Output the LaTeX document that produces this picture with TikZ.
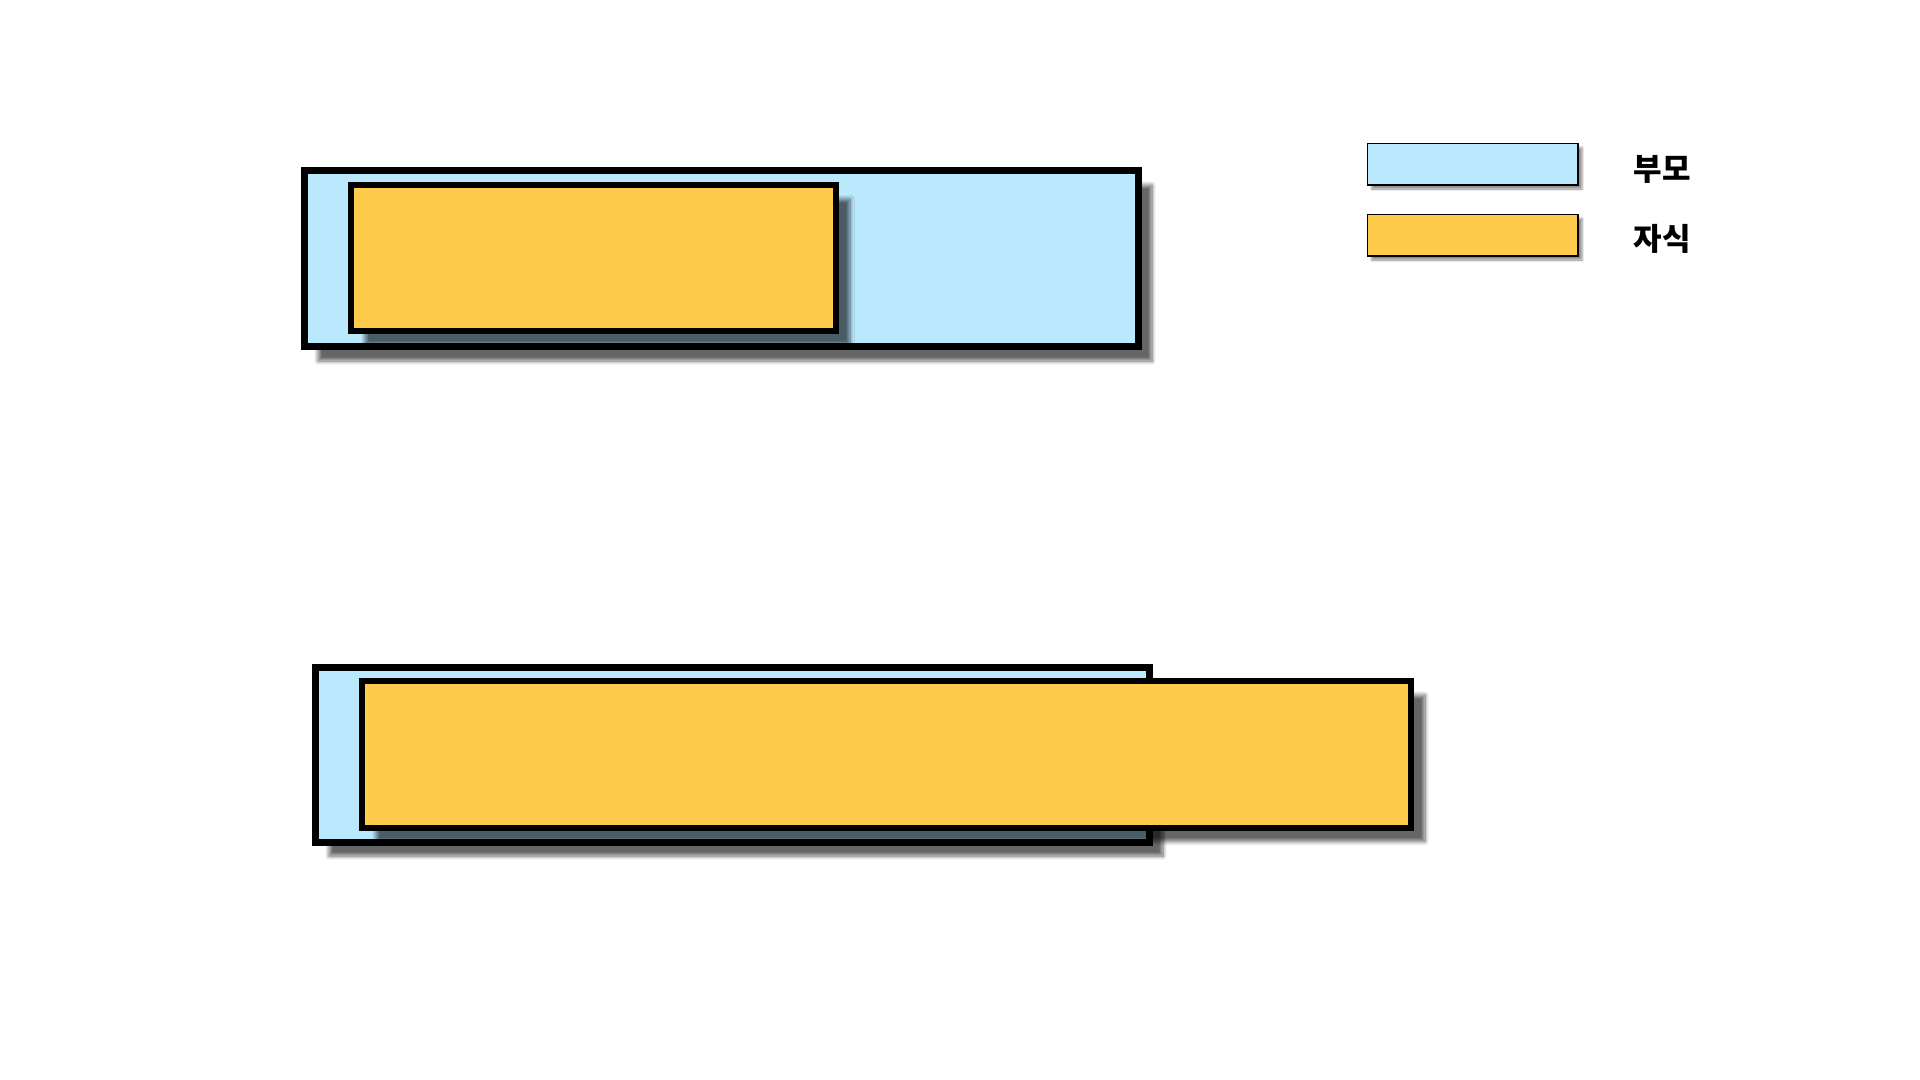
\documentclass[tikz,border=0pt]{standalone}
\usepackage{fontspec}
\newfontfamily\kr{Noto Sans CJK KR}
\usetikzlibrary{shadows.blur}
\definecolor{pblue}{HTML}{BAE8FD}
\definecolor{corange}{HTML}{FECC4A}
\begin{document}
\begin{tikzpicture}[x=0.5pt,y=-0.5pt,
  box/.style={draw=black, inner sep=0pt, anchor=north west,
    blur shadow={shadow xshift=7pt, shadow yshift=-7pt, shadow blur radius=2pt, shadow opacity=60, shadow blur steps=8}},
  parentbox/.style={box, fill=pblue, line width=3.5pt},
  childbox/.style={box, fill=corange, line width=3pt},
  legbox/.style={draw=black, line width=0.75pt, inner sep=0pt, anchor=north west,
    minimum width=105.25pt, minimum height=20.75pt,
    blur shadow={shadow xshift=2pt, shadow yshift=-2pt, shadow blur radius=1.2pt, shadow opacity=45}},
  legtext/.style={font=\kr\bfseries\fontsize{15.5}{18}\selectfont, text=black, inner sep=0pt}]
\useasboundingbox (0,0) rectangle (1920,1080);
% top example
\node[parentbox, minimum width=417pt, minimum height=88pt] (pa1) at (300.5,167.5) {};
\node[childbox, minimum width=242.5pt, minimum height=72.85pt] (ch1) at (348,182) {};
% bottom example
\node[parentbox, minimum width=417pt, minimum height=87.5pt] (pa2) at (311.5,663.5) {};
\node[childbox, minimum width=524.5pt, minimum height=73.3pt] (ch2) at (359,678) {};
% legend
\node[legbox, fill=pblue] (lp) at (1366.75,142.75) {};
\node[legbox, fill=corange] (lc) at (1366.75,213.75) {};
\node[legtext] (tp) at (1662,169) {부모};
\node[legtext] (tc) at (1662,239) {자식};
\end{tikzpicture}
\end{document}
